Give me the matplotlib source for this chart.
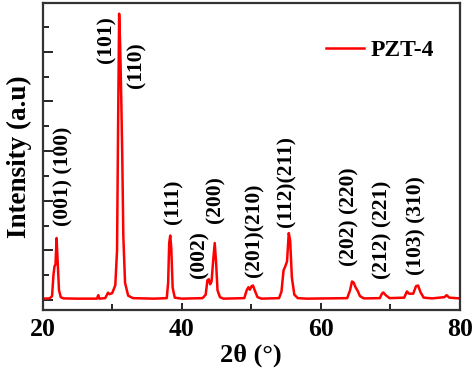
import matplotlib
matplotlib.use("Agg")
import matplotlib.pyplot as plt
from matplotlib.ticker import MultipleLocator, NullFormatter

# XRD pattern of PZT-4
two_theta = [20.0, 21.0, 21.35, 21.55, 21.7, 21.85, 22.0, 22.15, 22.35, 22.6, 23.0,
             25.0, 27.8, 28.0, 28.15, 29.0, 29.4, 29.6, 30.0, 30.45, 30.7, 30.85,
             31.0, 31.15, 31.3, 31.45, 31.6, 31.85, 32.3, 33.0, 36.0, 37.85, 38.05,
             38.2, 38.35, 38.5, 38.7, 39.0, 40.0, 43.0, 43.45, 43.7, 43.9, 44.1,
             44.3, 44.5, 44.75, 44.95, 45.15, 45.5, 46.0, 49.0, 49.35, 49.6, 49.8,
             50.05, 50.25, 50.5, 50.9, 51.5, 54.0, 54.35, 54.65, 54.9, 55.15, 55.4,
             55.6, 55.85, 56.2, 56.7, 58.0, 63.8, 64.2, 64.5, 64.75, 65.0, 65.3,
             65.65, 66.2, 68.5, 68.8, 69.0, 69.35, 69.9, 72.0, 72.4, 72.7, 73.3,
             73.7, 74.0, 74.35, 74.8, 76.0, 77.8, 78.1, 78.5, 80.0]
intensity = [30, 35, 80, 500, 680, 720, 1250, 800, 200, 60, 35,
             30, 30, 100, 30, 40, 150, 120, 140, 300, 1000, 3500,
             5765, 5100, 4100, 2900, 1300, 350, 90, 40, 30, 40, 350,
             1150, 1300, 1050, 250, 50, 30, 40, 110, 400, 420, 320,
             380, 750, 1150, 750, 200, 60, 30, 40, 200, 260, 210,
             280, 295, 200, 60, 30, 40, 170, 600, 680, 780, 1350,
             1200, 450, 110, 40, 30, 40, 190, 375, 350, 260, 190,
             80, 35, 40, 130, 155, 100, 40, 50, 175, 130, 130,
             280, 295, 160, 50, 35, 60, 100, 50, 35]

# peak labels and where they sit
peak_labels = ["(001) (100)", "(101)", "(110)", "(111)", "(002)", "(200)",
               "(201)(210)", "(112)(211)", "(202) (220)", "(212) (221)", "(103) (310)"]
label_x = [23.0, 29.2, 33.5, 38.8, 42.6, 44.8, 50.5, 55.1, 64.2, 68.9, 73.8]
label_y = [2490, 5242, 4738, 1987, 913, 2020, 1416, 2389, 1685, 1416, 1503]

plt.rcParams['font.family'] = ['Liberation Serif', 'DejaVu Serif']
plt.rcParams['font.weight'] = 'bold'

fig = plt.figure(figsize=(4.74, 3.76), dpi=100)
ax = fig.add_axes([0.090, 0.176, 0.880, 0.816])

ax.plot(two_theta, intensity, color='#ff0000', lw=1.8, label='PZT-4')

for txt, x, y in zip(peak_labels, label_x, label_y):
    ax.text(x, y, txt, rotation=90, ha='center', va='center',
            fontsize=15.5, fontweight='bold')

ax.set_xlim(20, 80)
ax.set_ylim(-195, 5980)
ax.xaxis.set_major_locator(MultipleLocator(20))
ax.xaxis.set_minor_locator(MultipleLocator(10))
ax.yaxis.set_major_locator(MultipleLocator(1000))
ax.yaxis.set_minor_locator(MultipleLocator(500))
ax.yaxis.set_major_formatter(NullFormatter())
ax.tick_params(which='both', direction='in', top=False, right=False)
ax.tick_params(axis='x', which='major', length=5, width=1.2, labelsize=18.5, pad=6)
ax.tick_params(axis='x', which='minor', length=4, width=1.2)
ax.tick_params(axis='y', which='major', length=7, width=1.2)
ax.tick_params(axis='y', which='minor', length=4, width=1.2)
for s in ax.spines.values():
    s.set_linewidth(1.6)
    s.set_color('#333333')

ax.set_xlabel("2θ (°)", fontsize=19, fontweight='bold', labelpad=2)
ax.set_ylabel("Intensity (a.u)", fontsize=19.5, fontweight='bold', labelpad=4)

ax.legend(loc='upper right', frameon=False, fontsize=17, handlelength=1.6,
          handletextpad=0.3, bbox_to_anchor=(0.99, 0.95))

fig.savefig("out.png", dpi=100)
